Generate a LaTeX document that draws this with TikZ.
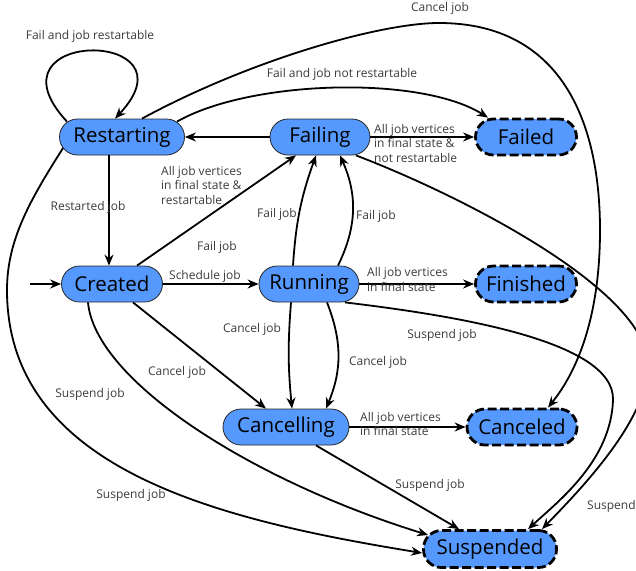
\documentclass[tikz,border=0pt]{standalone}
\usepackage{fontspec}
\setmainfont{Open Sans}
\usetikzlibrary{arrows.meta,calc}
\definecolor{stfill}{RGB}{85,153,255}
\definecolor{lblc}{RGB}{60,60,60}
\begin{document}
\begin{tikzpicture}[x=1pt,y=-1pt,
  state/.style={draw=black!85, line width=0.8pt, fill=stfill, rounded corners=18pt, minimum height=36pt, inner sep=0pt, font=\fontsize{20.5}{24}\selectfont},
  final/.style={state, draw=black, line width=2.8pt, dash pattern=on 9pt off 3.5pt},
  arr/.style={line width=1.8pt, -{Stealth[length=11pt,width=9pt]}},
  lbl/.style={font=\fontsize{12}{14.5}\selectfont, text=lblc, inner sep=0pt},
  lbll/.style={lbl, align=left}]
\useasboundingbox (0,0) rectangle (636,570);

% states
\node[state, minimum width=125pt] (restarting) at (122,137) {Restarting};
\node[state, minimum width=100pt] (failing) at (320,137) {Failing};
\node[final, minimum width=101pt] (failed) at (526,137) {Failed};
\node[state, minimum width=101pt] (created) at (112,284) {Created};
\node[state, minimum width=100pt] (running) at (309,284) {Running};
\node[final, minimum width=101pt] (finished) at (526,284) {Finished};
\node[state, minimum width=126pt] (cancelling) at (286,427) {Cancelling};
\node[final, minimum width=110pt] (canceled) at (522,427) {Canceled};
\node[final, minimum width=133pt, minimum height=37pt] (suspended) at (490,549) {Suspended};
\coordinate (start) at (30,284);

% edges
\draw[arr] (start) -- (created.west);
\draw[arr] ([xshift=-13pt]restarting.south) -- ([xshift=-3pt]created.north);
\draw[arr] (failing.west) -- (restarting.east);
\draw[arr] ([xshift=25pt]created.north) -- ([xshift=-24pt]failing.south);
\draw[arr] ([xshift=-16pt]running.north) to[bend left=8] ([xshift=-4pt]failing.south);
\draw[arr] ([xshift=29pt]running.north) to[bend right=25] ([xshift=20pt]failing.south);
\draw[arr] (created.east) -- (running.west);
\draw[arr] (running.east) -- (finished.west);
\draw[arr] (failing.east) -- (failed.west);
\draw[arr] ([xshift=-55pt,yshift=-3pt]restarting.north) .. controls (-20,28) and (200,28) .. ([xshift=-7pt]restarting.north);
\draw[arr] ([xshift=55pt,yshift=-3pt]restarting.north) .. controls (250,80) and (420,75) .. ([xshift=-38pt]failed.north);
\draw[arr] ([xshift=20pt]restarting.north) .. controls (250,60) and (380,23) .. (439,23)
   .. controls (560,23) and (600,120) .. (600,230)
   .. controls (600,330) and (570,380) .. ([xshift=26pt]canceled.north);
\draw[arr] ([xshift=-18pt]running.south) to[bend right=5] ([xshift=6pt]cancelling.north);
\draw[arr] ([xshift=18pt]running.south) to[bend left=22] ([xshift=40pt]cancelling.north);
\draw[arr] ([xshift=21pt]created.south) -- ([xshift=-20pt]cancelling.north);
\draw[arr] (cancelling.east) -- (canceled.west);
\draw[arr] ([xshift=30pt]cancelling.south) -- ([xshift=-31pt]suspended.north);
\draw[arr] ([xshift=-24pt]created.south) .. controls (95,380) and (250,480) .. ([xshift=6pt,yshift=14pt]suspended.west);
\draw[arr] ([xshift=4pt,yshift=-11pt]restarting.west) .. controls (30,200) and (7,240) .. (7,290)
   .. controls (7,470) and (220,520) .. ([yshift=-4pt]suspended.west);
\draw[arr] ([xshift=36pt]running.south) .. controls (450,315) and (615,340) .. (613,400)
   .. controls (611,460) and (560,500) .. ([xshift=38pt]suspended.north);
\draw[arr] ([xshift=36pt]failing.south) .. controls (460,195) and (648,290) .. (648,365)
   .. controls (648,420) and (580,490) .. ([xshift=52pt]suspended.north);

% labels
\node[lbl] (lb1) at (90,36) {Fail and job restartable};
\node[lbl] (lb2) at (342,74) {Fail and job not restartable};
\node[lbl] (lb3) at (440,8) {Cancel job};
\node[lbll, anchor=west] (lb4) at (161,185) {All job vertices\\in final state \&\\restartable};
\node[lbll, anchor=west] (lb5) at (374,143) {All job vertices\\in final state \&\\not restartable};
\node[lbl] (lb6) at (88,207) {Restarted job};
\node[lbl] (lb7) at (217,247) {Fail job};
\node[lbl] (lb8) at (277,214) {Fail job};
\node[lbl] (lb9) at (376,216) {Fail job};
\node[lbl] (lb10) at (205,276) {Schedule job};
\node[lbll, anchor=west] (lb11) at (367,279.5) {All job vertices\\in final state};
\node[lbl] (lb12) at (252,329) {Cancel job};
\node[lbl] (lb13) at (378,362) {Cancel job};
\node[lbl] (lb14) at (177,372) {Cancel job};
\node[lbl] (lb15) at (442,335) {Suspend job};
\node[lbl] (lb16) at (90,394) {Suspend job};
\node[lbl] (lb17) at (131,495) {Suspend job};
\node[lbl] (lb18) at (430,485) {Suspend job};
\node[lbll, anchor=west] (lb19) at (360,424) {All job vertices\\in final state};
\node[lbl, anchor=west] (lb20) at (587,506) {Suspend job};
\end{tikzpicture}
\end{document}
